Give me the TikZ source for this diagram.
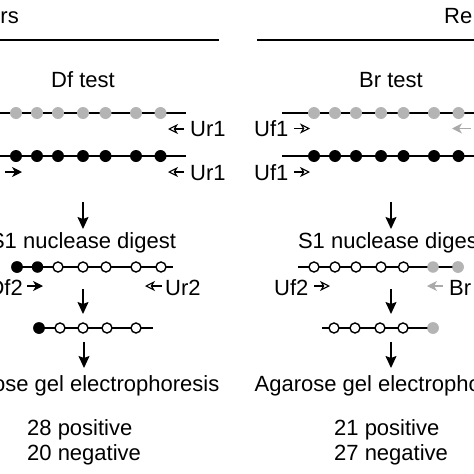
\documentclass[tikz,border=0pt]{standalone}
\usepackage{fontspec}
\setmainfont{Liberation Sans}
\usetikzlibrary{arrows.meta}
\definecolor{dotgray}{HTML}{B4B4B4}
\definecolor{arrgray}{HTML}{AAAAAA}
\begin{document}
\begin{tikzpicture}[x=1pt,y=-1pt,
  txt/.style={inner sep=0pt, font=\fontsize{22}{26}\selectfont},
  rule/.style={line width=1.5pt},
  strand/.style={line width=1.5pt},
  gdot/.style={circle, fill=dotgray, inner sep=0pt, minimum size=12pt},
  bdot/.style={circle, fill=black, inner sep=0pt, minimum size=12pt},
  odot/.style={circle, draw=black, line width=1.4pt, fill=white, inner sep=0pt, minimum size=10pt},
  sbdot/.style={circle, fill=black, inner sep=0pt, minimum size=11.5pt},
  sgdot/.style={circle, fill=dotgray, inner sep=0pt, minimum size=11.5pt},
  primopen/.style={line width=1.1pt, -{Stealth[open, length=10pt, width=10pt, inset=3pt]}},
  primfill/.style={line width=1.1pt, -{Stealth[length=10pt, width=10pt, inset=3pt]}},
  primgray/.style={line width=1.1pt, draw=arrgray, -{Stealth[length=10pt, width=10pt, inset=3pt, fill=arrgray]}},
  downarr/.style={line width=1.5pt, -{Stealth[length=12pt, width=11pt, inset=2pt]}}
]
\useasboundingbox (0,0) rectangle (474,474);
\clip (0,0) rectangle (474,474);

% headers
\node[txt, anchor=base east] (hl) at (19,23) {rs};
\node[txt, anchor=base west] (hr) at (444,23) {Re};
\coordinate (r1a) at (-2,40); \coordinate (r1b) at (219,40);
\coordinate (r2a) at (257,40); \coordinate (r2b) at (476,40);
\draw[rule] (r1a) -- (r1b);
\draw[rule] (r2a) -- (r2b);

\node[txt, anchor=base] (dft) at (83,87) {Df test};
\node[txt, anchor=base] (brt) at (391,87) {Br test};

% ---------- left column ----------
\coordinate (la1) at (-16,113); \coordinate (lb1) at (186,113);
\draw[strand] (la1) -- (lb1);
\foreach \x [count=\i] in {16,37,58,83,105.5,136,160.5}
  \node[gdot] (lg\i) at (\x,113) {};
\coordinate (la2) at (-16,156); \coordinate (lb2) at (186,156);
\draw[strand] (la2) -- (lb2);
\foreach \x [count=\i] in {16,37,58,83,105.5,136,160.5}
  \node[bdot] (lk\i) at (\x,156) {};
% primers
\coordinate (ur1a) at (184,129); \coordinate (ur1b) at (168,129);
\draw[primopen] (ur1a) -- (ur1b);
\node[txt, anchor=base west] (tur1) at (190,136.5) {Ur1};
\coordinate (df1a) at (5,172); \coordinate (df1b) at (22,172);
\draw[primfill] (df1a) -- (df1b);
\coordinate (ur1c) at (184,172); \coordinate (ur1d) at (168,172);
\draw[primopen] (ur1c) -- (ur1d);
\node[txt, anchor=base west] (tur1b) at (190,180) {Ur1};

\coordinate (ld1a) at (83,202); \coordinate (ld1b) at (83,229);
\draw[downarr] (ld1a) -- (ld1b);
\node[txt, anchor=base] (s1l) at (83,248) {S1 nuclease digest};

% strand 3
\coordinate (lb3) at (173,267);
\node[sbdot] (l3a) at (17,267) {};
\draw[strand] (l3a.center) -- (lb3);
\node[sbdot] (l3b) at (37.5,267) {};
\foreach \x [count=\i] in {58,83,106,136,161}
  \node[odot] (l3o\i) at (\x,267) {};
\node[sbdot] at (l3a) {};
\node[txt, anchor=base east] (tdf2) at (23,295) {Df2};
\coordinate (df2a) at (27,286); \coordinate (df2b) at (43,286);
\draw[primfill] (df2a) -- (df2b);
\coordinate (ur2a) at (162,286); \coordinate (ur2b) at (145,286);
\draw[primopen] (ur2a) -- (ur2b);
\node[txt, anchor=base west] (tur2) at (165,295) {Ur2};

\coordinate (ld2a) at (83,289); \coordinate (ld2b) at (83,314);
\draw[downarr] (ld2a) -- (ld2b);

% strand 4
\coordinate (lb4) at (153,328);
\node[sbdot] (l4a) at (39,328) {};
\draw[strand] (l4a.center) -- (lb4);
\node[sbdot] at (l4a) {};
\foreach \x [count=\i] in {60,83,107,136}
  \node[odot] (l4o\i) at (\x,328) {};

\coordinate (ld3a) at (84,342); \coordinate (ld3b) at (84,368);
\draw[downarr] (ld3a) -- (ld3b);
\node[txt, anchor=base] (agl) at (83,391) {Agarose gel electrophoresis};

\node[txt, anchor=base west] (resl1) at (27,435) {28 positive};
\node[txt, anchor=base west] (resl2) at (27,460) {20 negative};

% ---------- right column ----------
\coordinate (ra1) at (282,113); \coordinate (rb1) at (486,113);
\draw[strand] (ra1) -- (rb1);
\foreach \x [count=\i] in {314,335,356,381,403.5,434,458.5}
  \node[gdot] (rg\i) at (\x,113) {};
\coordinate (ra2) at (282,156); \coordinate (rb2) at (486,156);
\draw[strand] (ra2) -- (rb2);
\foreach \x [count=\i] in {314,335,356,381,403.5,434,458.5}
  \node[bdot] (rk\i) at (\x,156) {};

\node[txt, anchor=base west] (tuf1) at (254,136.5) {Uf1};
\coordinate (uf1a) at (294,128.5); \coordinate (uf1b) at (310,128.5);
\draw[primopen] (uf1a) -- (uf1b);
\coordinate (br1a) at (471,128.5); \coordinate (br1b) at (452,128.5);
\draw[primgray] (br1a) -- (br1b);
\node[txt, anchor=base west] (tuf1b) at (254,180) {Uf1};
\coordinate (uf1c) at (294,172); \coordinate (uf1d) at (310,172);
\draw[primopen] (uf1c) -- (uf1d);

\coordinate (rd1a) at (391,202); \coordinate (rd1b) at (391,229);
\draw[downarr] (rd1a) -- (rd1b);
\node[txt, anchor=base] (s1r) at (391,248) {S1 nuclease digest};

% strand 3 right
\coordinate (ra3) at (298,267);
\node[sgdot] (r3g2) at (458,267) {};
\draw[strand] (ra3) -- (r3g2.center);
\foreach \x [count=\i] in {314,335,356,381,403.5}
  \node[odot] (r3o\i) at (\x,267) {};
\node[sgdot] (r3g1) at (433,267) {};
\node[sgdot] at (r3g2) {};

\node[txt, anchor=base west] (tuf2) at (274,295) {Uf2};
\coordinate (uf2a) at (314,286); \coordinate (uf2b) at (330,286);
\draw[primopen] (uf2a) -- (uf2b);
\coordinate (br2a) at (443,286); \coordinate (br2b) at (427,286);
\draw[primgray] (br2a) -- (br2b);
\node[txt, anchor=base west] (tbr2) at (449,295) {Br};

\coordinate (rd2a) at (391,289); \coordinate (rd2b) at (391,314);
\draw[downarr] (rd2a) -- (rd2b);

% strand 4 right
\coordinate (ra4) at (322,328);
\node[sgdot] (r4g) at (433,328) {};
\draw[strand] (ra4) -- (r4g.center);
\foreach \x [count=\i] in {334,355,380,403}
  \node[odot] (r4o\i) at (\x,328) {};
\node[sgdot] at (r4g) {};

\coordinate (rd3a) at (391,342); \coordinate (rd3b) at (391,368);
\draw[downarr] (rd3a) -- (rd3b);
\node[txt, anchor=base] (agr) at (391,391) {Agarose gel electrophoresis};

\node[txt, anchor=base west] (resr1) at (334,435) {21 positive};
\node[txt, anchor=base west] (resr2) at (334,460) {27 negative};
\end{tikzpicture}
\end{document}
